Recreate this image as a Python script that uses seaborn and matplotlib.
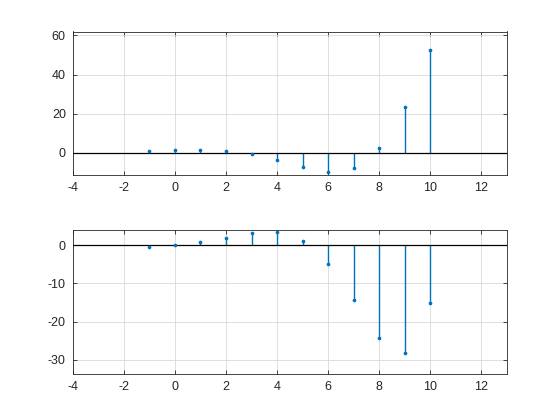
import numpy as np
import pandas as pd
import seaborn as sns
import matplotlib.pyplot as plt

sns.set_style("ticks")
plt.rcParams['font.family'] = ['Liberation Sans', 'DejaVu Sans']
plt.rcParams['axes.unicode_minus'] = False

n = [-1, 0, 1, 2, 3, 4, 5, 6, 7, 8, 9, 10]
top_vals = [0.9, 1.2, 1.4, 1.0, -0.5, -3.5, -7.1, -9.7, -7.8, 2.4, 23.5, 52.6]
bottom_vals = [-0.35, 0.0, 0.9, 2.0, 3.3, 3.4, 1.1, -4.85, -14.3, -24.4, -28.2, -15.2]

blue = (0, 0.447, 0.741)

fig = plt.figure(figsize=(5.6, 4.2), dpi=100)
ax1 = fig.add_axes([0.13, 0.5838, 0.775, 0.3412])
ax2 = fig.add_axes([0.13, 0.11, 0.775, 0.3412])


def stem_panel(ax, vals, ylim, yticks):
    df = pd.DataFrame({'n': n, 'v': vals})
    ax.vlines(df['n'], 0, df['v'], color=blue, lw=1.0, zorder=3)
    sns.scatterplot(data=df, x='n', y='v', ax=ax, color=blue, s=7,
                    edgecolor=blue, linewidth=0, zorder=4)
    ax.axhline(0, color='black', lw=0.9, zorder=3)
    ax.set_xlim(-4, 13)
    ax.set_ylim(*ylim)
    ax.set_xticks(range(-4, 13, 2))
    ax.set_yticks(yticks)
    ax.grid(True, color='#d9d9d9', lw=0.6)
    ax.set_axisbelow(True)
    ax.set_xlabel('')
    ax.set_ylabel('')
    ax.tick_params(direction='in', top=True, right=True, length=3, width=0.6,
                   labelsize=9, colors='#262626', pad=5)
    for s in ax.spines.values():
        s.set_color('#262626')
        s.set_linewidth(0.6)
        s.set_visible(True)


stem_panel(ax1, top_vals, (-11.3, 62), [0, 20, 40, 60])
stem_panel(ax2, bottom_vals, (-33.7, 3.9), [-30, -20, -10, 0])

fig.savefig('out.png', dpi=100)
